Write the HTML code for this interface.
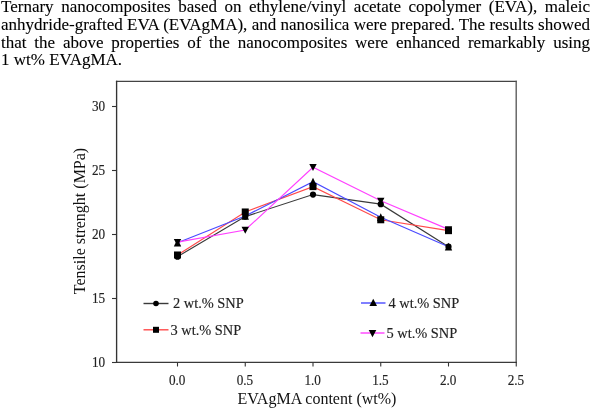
<!DOCTYPE html>
<html><head><meta charset="utf-8"><style>
html,body{margin:0;padding:0;background:#fff;width:591px;height:409px;overflow:hidden}
.p{position:absolute;left:1px;top:-2px;width:589px;font-family:"Liberation Serif",serif;font-size:17px;line-height:17.8px;text-align:justify;color:#000;-webkit-text-stroke:0.1px #000}
.j{text-align:justify;text-align-last:justify;white-space:nowrap}
svg{position:absolute;left:0;top:0}
.tk{font-family:"Liberation Serif",serif;font-size:13.2px;fill:#222;stroke:#222;stroke-width:0.15px}
.lg{font-family:"Liberation Serif",serif;font-size:14.4px;fill:#222;stroke:#222;stroke-width:0.15px}
.ax{font-family:"Liberation Serif",serif;font-size:16px;fill:#111}
</style></head><body>
<div class="p"><div class="j">Ternary nanocomposites based on ethylene/vinyl acetate copolymer (EVA), maleic</div><div class="j">anhydride-grafted EVA (EVAgMA), and nanosilica were prepared. The results showed</div><div class="j">that the above properties of the nanocomposites were enhanced remarkably using</div><div>1 wt% EVAgMA.</div></div>
<svg width="591" height="409" viewBox="0 0 591 409">
<line x1="116.6" y1="81.3" x2="516.2" y2="81.3" stroke="#444" stroke-width="1.35" stroke-linecap="square"/>
<line x1="516.2" y1="81.3" x2="516.2" y2="362.3" stroke="#585858" stroke-width="1.35" stroke-linecap="square"/>
<line x1="116.6" y1="362.3" x2="516.2" y2="362.3" stroke="#3a3a3a" stroke-width="1.35" stroke-linecap="square"/>
<line x1="116.6" y1="81.3" x2="116.6" y2="362.3" stroke="#333" stroke-width="1.35" stroke-linecap="square"/>
<line x1="112" y1="362.50" x2="116.5" y2="362.50" stroke="#333" stroke-width="1.1"/>
<text transform="translate(105.2,367.10) scale(1,1.17)" text-anchor="end" class="tk">10</text>
<line x1="112" y1="298.50" x2="116.5" y2="298.50" stroke="#333" stroke-width="1.1"/>
<text transform="translate(105.2,303.10) scale(1,1.17)" text-anchor="end" class="tk">15</text>
<line x1="112" y1="234.50" x2="116.5" y2="234.50" stroke="#333" stroke-width="1.1"/>
<text transform="translate(105.2,239.10) scale(1,1.17)" text-anchor="end" class="tk">20</text>
<line x1="112" y1="170.50" x2="116.5" y2="170.50" stroke="#333" stroke-width="1.1"/>
<text transform="translate(105.2,175.10) scale(1,1.17)" text-anchor="end" class="tk">25</text>
<line x1="112" y1="106.50" x2="116.5" y2="106.50" stroke="#333" stroke-width="1.1"/>
<text transform="translate(105.2,111.10) scale(1,1.17)" text-anchor="end" class="tk">30</text>
<line x1="177.50" y1="362.5" x2="177.50" y2="366.5" stroke="#333" stroke-width="1.1"/>
<text transform="translate(177.20,384.6) scale(1,1.17)" text-anchor="middle" class="tk">0.0</text>
<line x1="245.25" y1="362.5" x2="245.25" y2="366.5" stroke="#333" stroke-width="1.1"/>
<text transform="translate(244.95,384.6) scale(1,1.17)" text-anchor="middle" class="tk">0.5</text>
<line x1="313.00" y1="362.5" x2="313.00" y2="366.5" stroke="#333" stroke-width="1.1"/>
<text transform="translate(312.70,384.6) scale(1,1.17)" text-anchor="middle" class="tk">1.0</text>
<line x1="380.75" y1="362.5" x2="380.75" y2="366.5" stroke="#333" stroke-width="1.1"/>
<text transform="translate(380.45,384.6) scale(1,1.17)" text-anchor="middle" class="tk">1.5</text>
<line x1="448.50" y1="362.5" x2="448.50" y2="366.5" stroke="#333" stroke-width="1.1"/>
<text transform="translate(448.20,384.6) scale(1,1.17)" text-anchor="middle" class="tk">2.0</text>
<line x1="516.25" y1="362.5" x2="516.25" y2="366.5" stroke="#333" stroke-width="1.1"/>
<text transform="translate(515.95,384.6) scale(1,1.17)" text-anchor="middle" class="tk">2.5</text>
<polyline points="177.50,256.64 245.25,216.58 313.00,194.56 380.75,204.16 448.50,246.66" fill="none" stroke="#3a3a3a" stroke-width="1.15"/>
<polyline points="177.50,254.98 245.25,211.97 313.00,186.63 380.75,219.78 448.50,230.66" fill="none" stroke="#ff4a4a" stroke-width="1.15"/>
<polyline points="177.50,242.69 245.25,215.94 313.00,181.76 380.75,217.22 448.50,246.66" fill="none" stroke="#4a4aff" stroke-width="1.15"/>
<polyline points="177.50,242.18 245.25,230.02 313.00,167.30 380.75,200.84 448.50,229.38" fill="none" stroke="#ff40ff" stroke-width="1.15"/>
<g fill="#000"><circle cx="177.50" cy="256.64" r="3.10"/><circle cx="245.25" cy="216.58" r="3.10"/><circle cx="313.00" cy="194.56" r="3.10"/><circle cx="380.75" cy="204.16" r="3.10"/><circle cx="448.50" cy="246.66" r="3.10"/></g>
<g fill="#000"><rect x="174.00" y="251.48" width="7.00" height="7.00"/><rect x="241.75" y="208.47" width="7.00" height="7.00"/><rect x="309.50" y="183.13" width="7.00" height="7.00"/><rect x="377.25" y="216.28" width="7.00" height="7.00"/><rect x="445.00" y="227.16" width="7.00" height="7.00"/></g>
<g fill="#000"><polygon points="177.50,238.72 181.20,246.49 173.80,246.49"/><polygon points="245.25,211.97 248.95,219.74 241.55,219.74"/><polygon points="313.00,177.79 316.70,185.56 309.30,185.56"/><polygon points="380.75,213.25 384.45,221.02 377.05,221.02"/><polygon points="448.50,242.69 452.20,250.46 444.80,250.46"/></g>
<g fill="#000"><polygon points="173.80,238.98 181.20,238.98 177.50,245.98"/><polygon points="241.55,226.82 248.95,226.82 245.25,233.82"/><polygon points="309.30,164.10 316.70,164.10 313.00,171.10"/><polygon points="377.05,197.64 384.45,197.64 380.75,204.64"/><polygon points="444.80,226.18 452.20,226.18 448.50,233.18"/></g>
<line x1="143.5" y1="303.5" x2="168.5" y2="303.5" stroke="#3a3a3a" stroke-width="1.4"/>
<g fill="#000"><circle cx="156.00" cy="303.50" r="2.80"/></g>
<text transform="translate(173,307.50)" class="lg">2 wt.% SNP</text>
<line x1="143.5" y1="329.8" x2="168.5" y2="329.8" stroke="#ff4a4a" stroke-width="1.4"/>
<g fill="#000"><rect x="153.00" y="326.80" width="6.00" height="6.00"/></g>
<text transform="translate(170.5,334.70)" class="lg">3 wt.% SNP</text>
<line x1="361" y1="303" x2="385.5" y2="303" stroke="#4a4aff" stroke-width="1.4"/>
<g fill="#000"><polygon points="373.25,298.70 377.05,306.00 369.45,306.00"/></g>
<text transform="translate(388.5,307.50)" class="lg">4 wt.% SNP</text>
<line x1="360.5" y1="333" x2="384.5" y2="333" stroke="#ff40ff" stroke-width="1.4"/>
<g fill="#000"><polygon points="368.70,330.00 376.30,330.00 372.50,337.30"/></g>
<text transform="translate(386.5,338.00)" class="lg">5 wt.% SNP</text>
<text x="317" y="404" text-anchor="middle" class="ax">EVAgMA content (wt%)</text>
<text transform="translate(84.5,221) rotate(-90)" text-anchor="middle" class="ax">Tensile strenght (MPa)</text>
</svg>
</body></html>
